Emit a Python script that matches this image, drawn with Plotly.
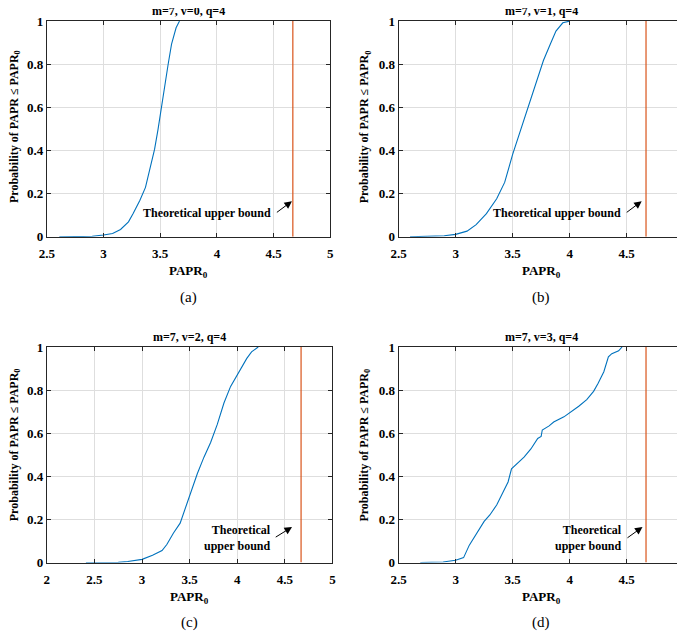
import plotly.graph_objects as go

# theoretical PAPR upper bound (same in all four panels)
bound = 4.67

papr_a = [2.61, 2.75, 2.9, 3.0, 3.08, 3.15, 3.22, 3.26, 3.32, 3.37, 3.41, 3.45, 3.48, 3.51, 3.54, 3.57, 3.60, 3.64, 3.67]
prob_a = [0, 0, 0.002, 0.008, 0.015, 0.034, 0.069, 0.107, 0.168, 0.229, 0.313, 0.405, 0.496, 0.603, 0.71, 0.80, 0.893, 0.969, 1.0]

papr_b = [2.6, 2.8, 2.9, 3.0, 3.1, 3.18, 3.27, 3.36, 3.43, 3.5, 3.58, 3.65, 3.71, 3.77, 3.83, 3.88, 3.94, 4.0]
prob_b = [0, 0.002, 0.005, 0.011, 0.026, 0.056, 0.107, 0.176, 0.252, 0.382, 0.511, 0.626, 0.718, 0.817, 0.893, 0.954, 0.992, 1.0]

papr_c = [2.41, 2.6, 2.75, 2.85, 2.93, 3.0, 3.11, 3.21, 3.26, 3.33, 3.4, 3.46, 3.52, 3.58, 3.65, 3.72, 3.79, 3.86, 3.93, 3.99, 4.05, 4.1, 4.15, 4.22]
prob_c = [0, 0, 0.001, 0.005, 0.009, 0.015, 0.034, 0.056, 0.084, 0.137, 0.183, 0.26, 0.344, 0.412, 0.489, 0.557, 0.641, 0.74, 0.817, 0.863, 0.905, 0.947, 0.977, 1.0]

papr_d = [2.69, 2.8, 2.89, 3.0, 3.07, 3.12, 3.18, 3.25, 3.3, 3.36, 3.41, 3.46, 3.49, 3.54, 3.6, 3.66, 3.72, 3.75, 3.76,
          3.82, 3.86, 3.95, 4.02, 4.08, 4.15, 4.21, 4.25, 4.3, 4.34, 4.37, 4.43, 4.46]
prob_d = [0, 0.001, 0.003, 0.011, 0.023, 0.081, 0.13, 0.191, 0.221, 0.267, 0.321, 0.374, 0.435, 0.458, 0.489, 0.527, 0.576, 0.585, 0.615,
          0.634, 0.652, 0.676, 0.702, 0.725, 0.756, 0.794, 0.832, 0.885, 0.954, 0.969, 0.982, 1.0]

titles = ['m=7, v=0, q=4', 'm=7, v=1, q=4', 'm=7, v=2, q=4', 'm=7, v=3, q=4']
labels = ['(a)', '(b)', '(c)', '(d)']
x_ranges = [[2.5, 5], [2.5, 5], [2, 5], [2.5, 5]]
bound_text = ['Theoretical upper bound', 'Theoretical upper bound',
              'Theoretical<br>upper bound', 'Theoretical<br>upper bound']

series = [(papr_a, prob_a), (papr_b, prob_b), (papr_c, prob_c), (papr_d, prob_d)]

# layout of the panels (paper coords)
x_dom = [[0.0574, 0.476], [0.577, 0.998], [0.0574, 0.4793], [0.577, 0.998]]
y_dom = [[0.6334, 0.979], [0.6334, 0.979], [0.1112, 0.4568], [0.1112, 0.4568]]
xtitle_y = [0.578, 0.578, 0.056, 0.056]
label_y = [0.536, 0.536, 0.016, 0.016]
ytitle_x = [0.0095, 0.527, 0.0095, 0.527]
ytitle_y = [0.81, 0.81, 0.30, 0.30]
# arrow tail / tip and text anchor in data coords
arrow_tail = [(4.516, 0.108), (4.488, 0.108), (4.388, 0.114), (4.494, 0.11)]
arrow_tip = [(4.662, 0.165), (4.632, 0.165), (4.575, 0.165), (4.639, 0.165)]
text_pos = [(4.494, 0.11), (4.471, 0.11), (4.377, 0.112), (4.48, 0.112)]

font = 'Liberation Serif, Times New Roman, serif'
blue = '#0072BD'
orange = '#D95319'
axcol = '#262626'
gridcol = '#dedede'

fig = go.Figure()
annotations = []

for i, (px, py) in enumerate(series):
    n = '' if i == 0 else str(i + 1)
    xa, ya = 'x' + n, 'y' + n
    fig.add_trace(go.Scatter(x=px, y=py, mode='lines', line=dict(color=blue, width=1.1),
                             xaxis=xa, yaxis=ya, showlegend=False))
    fig.add_trace(go.Scatter(x=[bound, bound], y=[0, 1], mode='lines', line=dict(color=orange, width=1.2),
                             xaxis=xa, yaxis=ya, showlegend=False))

    common = dict(showline=True, mirror='ticks', linecolor=axcol, linewidth=1,
                  ticks='inside', ticklen=4, tickcolor=axcol, automargin=False,
                  showgrid=True, gridcolor=gridcol, gridwidth=1, zeroline=False,
                  tickfont=dict(family=font, size=13, color='black', weight='bold'))
    fig.update_layout(**{
        'xaxis' + n: dict(domain=x_dom[i], range=x_ranges[i], dtick=0.5, anchor=ya,
                          ticklabelstandoff=5, **common),
        'yaxis' + n: dict(domain=y_dom[i], range=[0, 1], dtick=0.2, anchor=xa, **common),
    })

    xc = (x_dom[i][0] + x_dom[i][1]) / 2
    annotations += [
        dict(text=titles[i], x=xc, y=y_dom[i][1] + 0.002, xref='paper', yref='paper', showarrow=False,
             xanchor='center', yanchor='bottom',
             font=dict(family=font, size=12, color='black', weight='bold')),
        dict(text='PAPR<sub>0</sub>', x=xc, y=xtitle_y[i], xref='paper', yref='paper', showarrow=False,
             xanchor='center', yanchor='middle',
             font=dict(family=font, size=13, color='black', weight='bold')),
        dict(text=labels[i], x=xc, y=label_y[i], xref='paper', yref='paper', showarrow=False,
             xanchor='center', yanchor='middle',
             font=dict(family=font, size=15, color='black')),
        dict(text='Probability of PAPR \u2264 PAPR<sub>0</sub>', x=ytitle_x[i], y=ytitle_y[i],
             xref='paper', yref='paper', showarrow=False, textangle=-90,
             xanchor='center', yanchor='middle',
             font=dict(family=font, size=12, color='black', weight='bold')),
        dict(text=bound_text[i], x=text_pos[i][0], y=text_pos[i][1], xref=xa, yref=ya,
             xanchor='right', yanchor='middle', align='right', showarrow=False,
             font=dict(family=font, size=12, color='black', weight='bold')),
        dict(text='', x=arrow_tip[i][0], y=arrow_tip[i][1], ax=arrow_tail[i][0], ay=arrow_tail[i][1],
             xref=xa, yref=ya, axref=xa, ayref=ya, showarrow=True,
             arrowhead=2, arrowsize=1.5, arrowwidth=1, arrowcolor='black'),
    ]

# the page body adds an 8px margin, so the canvas is a bit smaller than the window
fig.update_layout(
    width=677, height=624,
    margin=dict(l=0, r=0, t=0, b=0),
    paper_bgcolor='white', plot_bgcolor='white',
    annotations=annotations,
)

fig.write_html('out.html')
